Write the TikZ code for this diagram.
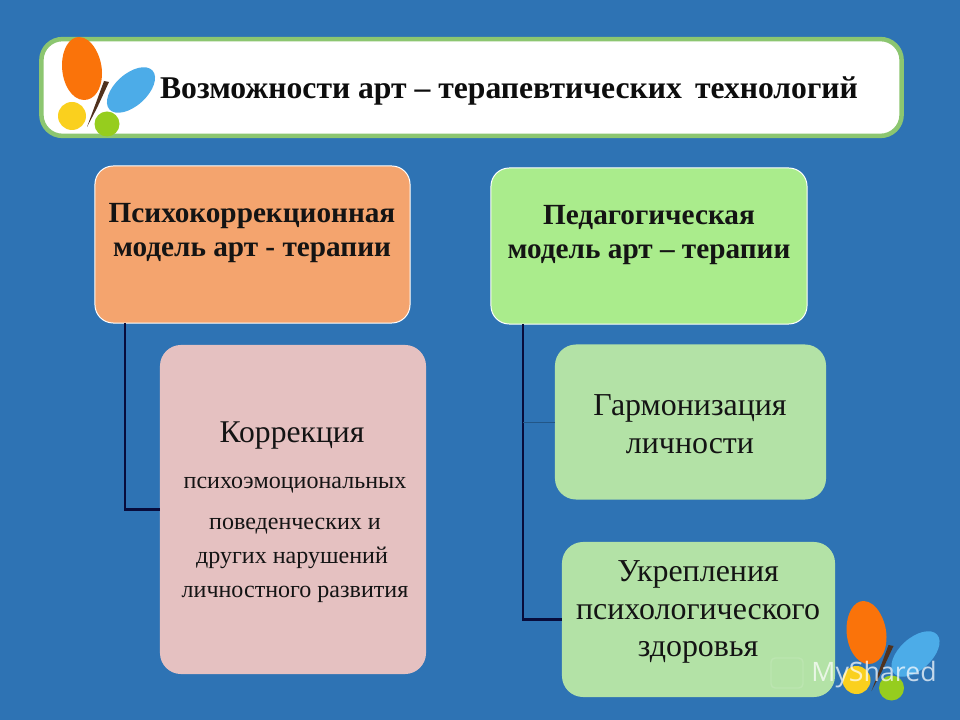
\documentclass[tikz,border=0pt]{standalone}
\usepackage{fontspec}
\setmainfont{Liberation Serif}
\newfontfamily\wmfont{Open Sans}
\definecolor{slideblue}{RGB}{46,115,180}
\definecolor{framegreen}{RGB}{140,198,112}
\definecolor{wingorange}{RGB}{250,115,10}
\definecolor{wingblue}{RGB}{76,172,232}
\definecolor{dotyellow}{RGB}{250,208,30}
\definecolor{dotgreen}{RGB}{150,205,30}
\definecolor{bodybrown}{RGB}{80,50,30}
\definecolor{salmonbox}{RGB}{244,164,110}
\definecolor{pinkbox}{RGB}{229,193,193}
\definecolor{limebox}{RGB}{170,236,140}
\definecolor{palebox}{RGB}{179,226,166}
\definecolor{linknavy}{RGB}{8,12,60}
\tikzset{
  modelbox/.style={draw=white, line width=0.7pt, rounded corners=13pt, inner sep=0pt},
  itembox/.style={rounded corners=15pt, inner sep=0pt},
  boldtext/.style={font=\fontsize{20.8}{24.2}\selectfont\bfseries, align=center, black!92},
  bigtext/.style={font=\fontsize{22.7}{26.7}\selectfont, align=center, black!92},
  smalltext/.style={font=\fontsize{17.1}{20}\selectfont, black!92},
  link/.style={draw=linknavy, line width=1.5pt},
  butterfly/.pic={
    \fill[wingorange] (79,37) .. controls (92,37) and (102,57) .. (102,73) .. controls (102,90) and (94,100) .. (84,100) .. controls (72,100) and (62,84) .. (62,65) .. controls (62,50) and (69,37) .. (79,37);
    \fill[wingblue, rotate around={42:(131,90)}] (131,90) ellipse (29 and 16);
    \fill[dotyellow] (72,116) circle (14);
    \fill[dotgreen] (107,124) circle (12.5);
    \fill[bodybrown] (104,81) -- (109,82) -- (97,108) -- (87,127) -- (97,100) -- cycle;
  }
}
\begin{document}
\begin{tikzpicture}[x=0.025cm, y=-0.025cm]
  \useasboundingbox (0,0) rectangle (960,720);
  \fill[slideblue] (0,0) rectangle (960,720);
  % title
  \node[draw=framegreen, fill=white, line width=3.2pt, rounded corners=15pt, minimum width=21.5cm, minimum height=2.42cm] (titlebox) at (471.5,87.5) {};
  \node[font=\fontsize{22.5}{27}\selectfont\bfseries, black!95] (titletext) at (509,91) {Возможности арт – терапевтических\, технологий};
  \pic at (0,0) {butterfly};
  % left column
  \node[modelbox, fill=salmonbox, minimum width=7.875cm, minimum height=3.925cm] (psychobox) at (252.5,244.5) {};
  \node[boldtext] (psychotext) at (252,233) {Психокоррекционная\\модель арт - терапии};
  \node[itembox, fill=pinkbox, minimum width=6.65cm, minimum height=8.225cm] (correctbox) at (293,509.5) {};
  \node[font=\fontsize{22.5}{27}\selectfont, black!92] (correcttext) at (292,436) {Коррекция};
  \node[smalltext] (linea) at (295,485) {психоэмоциональных};
  \node[smalltext] (lineb) at (295,526) {поведенческих и};
  \node[smalltext] (linec) at (292,558) {других нарушений};
  \node[smalltext] (lined) at (295,594) {личностного развития};
  % right column
  \node[modelbox, fill=limebox, minimum width=7.9cm, minimum height=3.9cm] (pedabox) at (649,246) {};
  \node[boldtext] (pedatext) at (649,235) {Педагогическая\\модель арт – терапии};
  \node[itembox, fill=palebox, minimum width=6.775cm, minimum height=3.875cm] (harmbox) at (690.5,422) {};
  \node[bigtext] (harmtext) at (690,424) {Гармонизация\\личности};
  \node[itembox, fill=palebox, minimum width=6.825cm, minimum height=3.875cm] (healthbox) at (698.5,619.5) {};
  \node[bigtext] (healthtext) at (698,612) {Укрепления\\психологического\\здоровья};
  % links
  \coordinate (psychofoot) at (125,323);
  \coordinate (pedafoot) at (523,324);
  \draw[link] (psychofoot) |- (correctbox.west);
  \draw[link] (pedafoot) |- (healthbox.west);
  \draw[slideblue!75!black, line width=0.6pt] (pedafoot |- harmbox.west) -- (harmbox.west);
  % logo and watermark
  \pic at (784.5,564) {butterfly};
  \node[draw=white, opacity=0.12, line width=1pt, rounded corners=3pt, minimum width=0.8cm, minimum height=0.75cm] (wmicon) at (787,673) {};
  \node[font=\fontsize{19}{23}\selectfont\wmfont, text=white, opacity=0.72] (wmtext) at (874,675) {MyShared};
\end{tikzpicture}
\end{document}
